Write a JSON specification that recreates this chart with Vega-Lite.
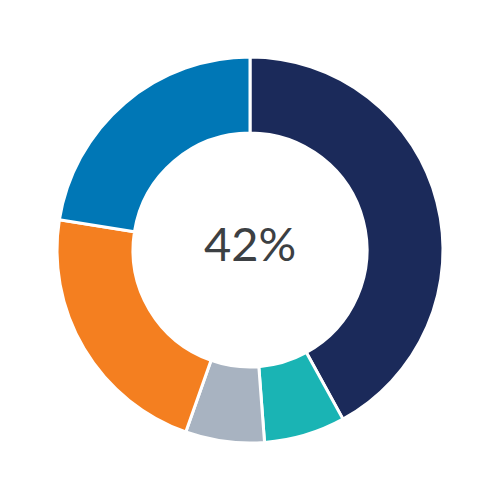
{
  "$schema": "https://vega.github.io/schema/vega-lite/v6.json",
  "width": 500,
  "height": 500,
  "autosize": {"type": "fit", "contains": "padding"},
  "background": "white",
  "config": {"view": {"stroke": null}},
  "data": {
    "values": [
      {"segment": "A", "idx": 1, "value": 42},
      {"segment": "B", "idx": 2, "value": 6.8},
      {"segment": "C", "idx": 3, "value": 6.6},
      {"segment": "D", "idx": 4, "value": 22.1},
      {"segment": "E", "idx": 5, "value": 22.5}
    ]
  },
  "layer": [
    {
      "mark": {"type": "arc", "innerRadius": 117, "outerRadius": 193, "stroke": "white", "strokeWidth": 3},
      "encoding": {
        "theta": {"field": "value", "type": "quantitative", "stack": true},
        "order": {"field": "idx", "type": "quantitative"},
        "color": {
          "field": "segment",
          "type": "nominal",
          "legend": null,
          "scale": {
            "domain": ["A", "B", "C", "D", "E"],
            "range": ["#1b2a5a", "#1ab4b4", "#a8b3c1", "#f47f20", "#0077b6"]
          }
        }
      }
    },
    {
      "data": {"values": [{"label": "42%"}]},
      "mark": {"type": "text", "font": "Lato", "fontWeight": 400, "fontSize": 47, "color": "#3c4043", "baseline": "middle", "align": "center", "dy": -3},
      "encoding": {"text": {"field": "label"}}
    }
  ]
}
